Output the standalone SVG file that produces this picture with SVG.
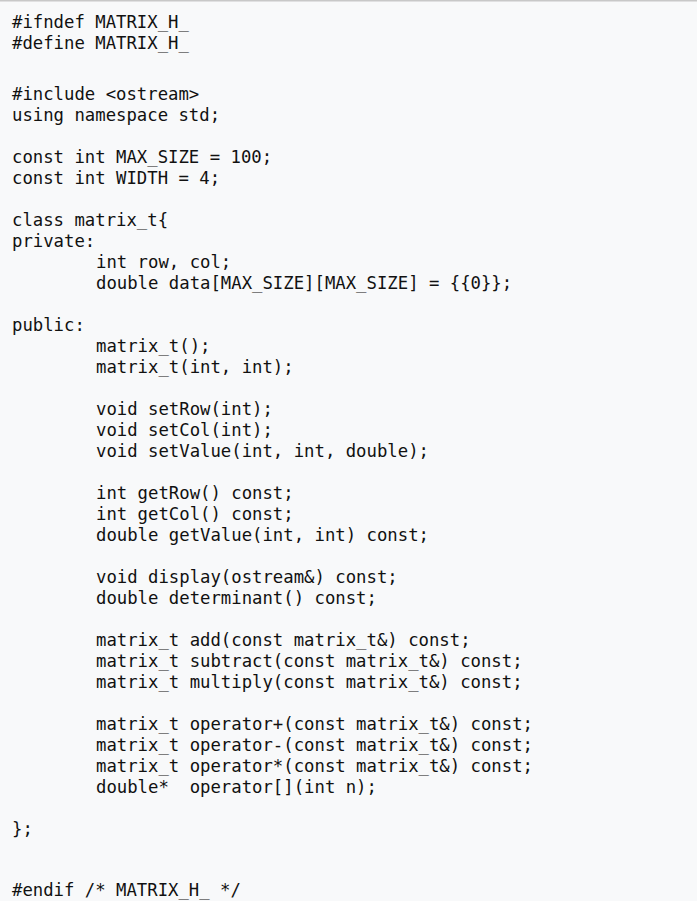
<svg xmlns="http://www.w3.org/2000/svg" width="697" height="901" viewBox="0 0 697 901">
<style>
text{font-family:"DejaVu Sans Mono","Liberation Mono",monospace;font-size:17.3px;fill:#111;white-space:pre}
</style>
<rect width="697" height="901" fill="#f8f9fa"/>
<rect width="697" height="1.5" fill="#c8c8c8"/>
<g id="code">
<text x="12" y="28">#ifndef MATRIX_H_</text>
<text x="12" y="49">#define MATRIX_H_</text>
<text x="12" y="100">#include &lt;ostream&gt;</text>
<text x="12" y="121">using namespace std;</text>
<text x="12" y="163">const int MAX_SIZE = 100;</text>
<text x="12" y="184">const int WIDTH = 4;</text>
<text x="12" y="226">class matrix_t{</text>
<text x="12" y="247">private:</text>
<text x="96" y="268">int row, col;</text>
<text x="96" y="289">double data[MAX_SIZE][MAX_SIZE] = {{0}};</text>
<text x="12" y="331">public:</text>
<text x="96" y="352">matrix_t();</text>
<text x="96" y="373">matrix_t(int, int);</text>
<text x="96" y="415">void setRow(int);</text>
<text x="96" y="436">void setCol(int);</text>
<text x="96" y="457">void setValue(int, int, double);</text>
<text x="96" y="499">int getRow() const;</text>
<text x="96" y="520">int getCol() const;</text>
<text x="96" y="541">double getValue(int, int) const;</text>
<text x="96" y="583">void display(ostream&amp;) const;</text>
<text x="96" y="604">double determinant() const;</text>
<text x="96" y="646">matrix_t add(const matrix_t&amp;) const;</text>
<text x="96" y="667">matrix_t subtract(const matrix_t&amp;) const;</text>
<text x="96" y="688">matrix_t multiply(const matrix_t&amp;) const;</text>
<text x="96" y="730">matrix_t operator+(const matrix_t&amp;) const;</text>
<text x="96" y="751">matrix_t operator-(const matrix_t&amp;) const;</text>
<text x="96" y="772">matrix_t operator*(const matrix_t&amp;) const;</text>
<text x="96" y="793">double*  operator[](int n);</text>
<text x="12" y="835">};</text>
<text x="12" y="896">#endif /* MATRIX_H_ */</text>
</g>
</svg>
